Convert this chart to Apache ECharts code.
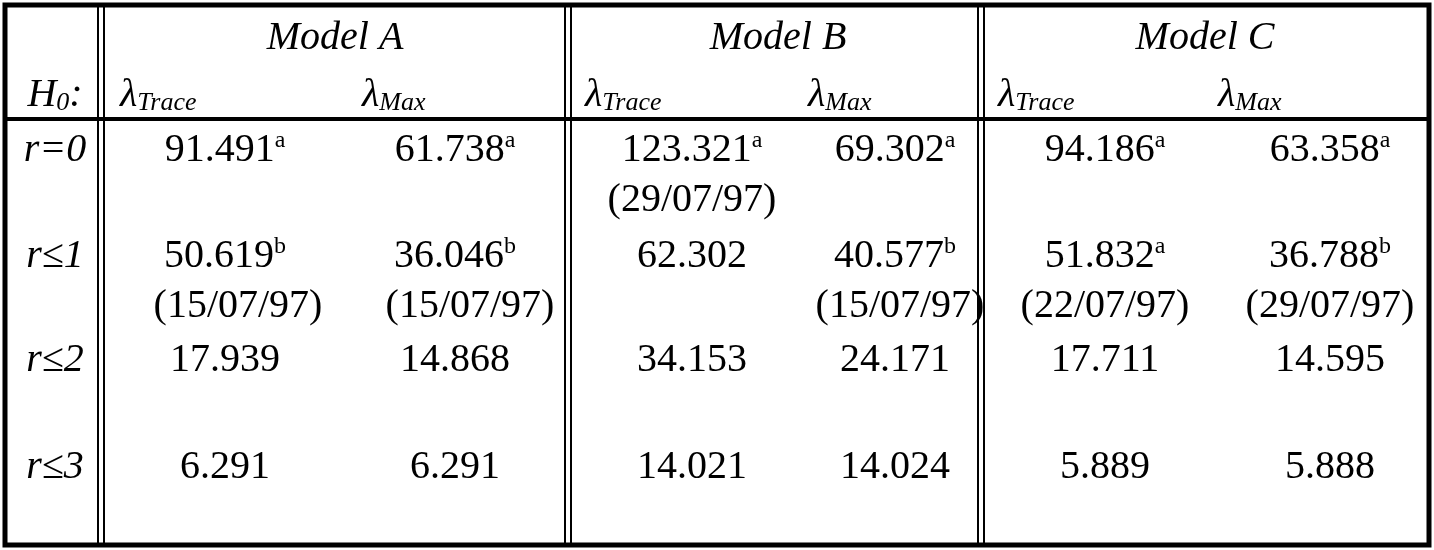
<!DOCTYPE html><html><head><meta charset="utf-8"><script src="https://cdn.jsdelivr.net/npm/echarts@6/dist/echarts.min.js"></script>
<style>html,body{margin:0;background:#fff}#c{width:1434px;height:550px}</style></head><body><div id="c"></div><script>
const models=['Model A','Model B','Model C'];
const stats=['Trace','Max','Trace','Max','Trace','Max'];
const rowLabels=['r=0','r≤1','r≤2','r≤3'];
const rowValues=[
 ['91.491','61.738','123.321','69.302','94.186','63.358'],
 ['50.619','36.046','62.302','40.577','51.832','36.788'],
 ['17.939','14.868','34.153','24.171','17.711','14.595'],
 ['6.291','6.291','14.021','14.024','5.889','5.888']];
const rowSup=[['a','a','a','a','a','a'],['b','b','','b','a','b'],['','','','','',''],['','','','','','']];
const rowDates=[['','','(29/07/97)','','',''],['(15/07/97)','(15/07/97)','','(15/07/97)','(22/07/97)','(29/07/97)'],['','','','','',''],['','','','','','']];
// layout
const colX=[225,455,692,895,1105,1330], dateX=[238,470,692,900,1105,1330], statX=[120,362,585,808,998,1218], modelX=[335,778,1205];
const rowY=[150,256,360,467], dateDy=50, labelX=55;
const F='"Liberation Serif","Times New Roman",serif';
const pts=[];
models.forEach((m,i)=>pts.push({value:[modelX[i],38],label:{formatter:'{i|'+m+'}'}}));
pts.push({value:[labelX,95],label:{formatter:'{i|H}{sub|0}{i|:}'}});
stats.forEach((s,i)=>pts.push({value:[statX[i],95],label:{align:'left',formatter:'{l|λ}{sub|'+s+'}'}}));
rowLabels.forEach((r,j)=>{
 pts.push({value:[labelX,rowY[j]],label:{formatter:'{i|'+r+'}'}});
 rowValues[j].forEach((v,i)=>{
  pts.push({value:[colX[i],rowY[j]],label:{formatter:'{n|'+v+'}'+(rowSup[j][i]?'{sup|'+rowSup[j][i]+'}':'')}});
  if(rowDates[j][i])pts.push({value:[dateX[i],rowY[j]+dateDy],label:{formatter:'{n|'+rowDates[j][i]+'}'}});
 });
});
const ch=echarts.init(document.getElementById('c'));
const L=(x1,y1,x2,y2,w)=>({type:'line',shape:{x1,y1,x2,y2},style:{stroke:'#000',lineWidth:w}});
const g=[{type:'rect',shape:{x:5,y:5,width:1424,height:540},style:{fill:'none',stroke:'#000',lineWidth:5}},L(5,119,1429,119,4)];
[98,104,565,571,978,984].forEach(x=>g.push(L(x,5,x,545,2)));
const base={fontFamily:F,color:'#000',textBorderWidth:0,opacity:1};
ch.setOption({animation:false,
 grid:{left:0,right:0,top:0,bottom:0},
 xAxis:{type:'value',min:0,max:1434,show:false},
 yAxis:{type:'value',min:0,max:550,inverse:true,show:false},
 graphic:g,
 series:[{type:'scatter',symbolSize:0,data:pts,emphasis:{disabled:true},label:{show:true,position:'inside',color:'#000',textBorderWidth:0,
  rich:{i:{...base,fontStyle:'italic',fontSize:40},
   l:{...base,fontStyle:'italic',fontSize:40},
   sub:{...base,fontStyle:'italic',fontSize:26,padding:[16,0,0,0]},
   n:{...base,fontSize:40},
   sup:{...base,fontSize:24,padding:[0,0,18,0]}}}}]});
</script></body></html>
